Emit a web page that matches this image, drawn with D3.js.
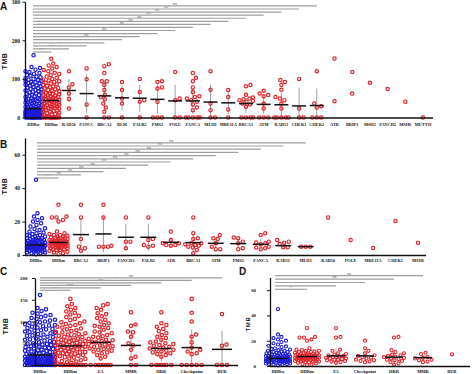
<!DOCTYPE html>
<html><head><meta charset="utf-8">
<script src="https://cdn.jsdelivr.net/npm/d3@7"></script>
<style>body{margin:0;background:#fff}svg{display:block}</style>
</head><body><svg id="c" width="474" height="374"></svg>
<script>
// ---------- DATA ----------
const ddrwTMB = [0,0,0,0,0,0,0,0,0,0,0,0,0,0,1,1,2,2,2,3,3,4,4,4,5,5,6,6,6,7,7,8,8,8,9,9,10,10,10,
 11,11,12,12,12,13,13,14,14,14,15,15,16,16,16,17,17,18,18,18,19,19,20,20,20,21,21,22,22,23,24,25,26,27,28,
 29,30,31,32,33,34,35,36,37,38,39,40,41,42,43,44,45,46,47,48,49,50,52,53,55,56,58,59,61,62,64,65,67,68,70,71,73,74,76,77,
 79,80,82,83,85,86,88,89,91,92,94,95,97,98,100,102,104,106,108,110,113,115,118,120,124,128,131,161];
const ddrmTMB = [0,0,0,0,0,0,0,0,0,0,0,0,3,5,6,8,9,11,12,14,15,17,18,20,21,22,23,24,25,26,27,28,
 29,30,31,32,33,34,35,36,37,38,39,40,41,42,43,44,45,46,47,48,49,50,51,52,53,54,55,56,57,58,60,61,62,64,65,67,68,70,71,73,
 75,76,78,80,82,84,86,88,90,92,94,96,98,100,103,106,110,113,116,120,123,127,131,135,140,152];
const ddrwB = [45,25,23,22,21,20,19,18,17,16,15.5,15,14,13.5,13,12.5,12,12,11.5,11,11,10.5,10,10,10,9.5,9.5,9,9,9,8.5,8.5,8,8,8,8,
 7.5,7.5,7,7,7,7,6.5,6.5,6.5,6,6,6,6,6,5.5,5.5,5.5,5,5,5,5,5,4.5,4.5,4.5,4,4,4,4,3.5,3.5,3.5,3,3,3,3,2.5,2.5,2,2,2,1.5,1.5,1,1,0.5];
const ddrmB = [30,23,22.5,22.5,21,20,14,13,12.5,12,12,11.5,11,11,10.5,10,10,10,9.5,9.5,9,9,9,8.5,8.5,8.5,8,8,8,8,7.5,7.5,7.5,
 7,7,7,7,6.5,6.5,6.5,6,6,6,6,5.5,5.5,5.5,5,5,5,5,4.5,4.5,4,4,4,3.5,3.5,3,3,2.5,2,1.5,1,0.5];

// Panel A
const catsA = ["DDRw","DDRm","RAD50","FANCC","BRCA2","BLM","PALB2","PMS2","POLE","FANCA","MLH1","MRE11A","BRCA1","ATM","RAD51","CHEK1","CHEK2","ATR","BRIP1","MSH2","FANCD2","MSH6","MUTYH"];
const pointsA = [ddrwTMB, ddrmTMB,
 [120,86,78,62,48,23],
 [127,99,34,0],
 [138,133,115,94,94,84,71,59,53,47,36,26,15,0,0],
 [92,71,49,36,0],
 [100,66,45,41,0],
 [94,92,78,75,41,0,0,0],
 [118,49,45,0,0],
 [115,103,94,78,66,55,53,49,45,41,34,26,19,0,0,0,0,0],
 [120,72,36,19,0,0],
 [71,53,21,0],
 [84,81,59,52,49,47,45,43,41,36,34,28,0,0,0,0],
 [69,62,58,55,36,23,0,0,0],
 [97,92,84,72,53,49,45,36,23,0,0,0,0,0],
 [100,23,0,0],
 [120,36,29,26,0,0,0],
 [153,42],[118,62],[90],[74],[41],[0]];
const centerA = [23,44,70,62,56,51,50,47,43,43,40,38,36,34,33,30,31,null,null,null,null,null,null];
const sdA = [30,35,30,50,40,32,35,38,42,33,45,30,24,24,32,48,44,null,null,null,null,null,null];
const sigA = ["****","***","*","***","*","ns","*","ns","**","ns","ns","ns","ns","ns","ns","ns"];
const ticksA = [0,100,200,300];

// Panel B
const catsB = ["DDRw","DDRm","BRCA2","BRIP1","FANCD2","PALB2","ATR","BRCA1","ATM","PMS2","FANCA","RAD51","MLH1","RAD50","POLE","MRE11A","CHEK1","MSH6"];
const pointsB = [ddrwB, ddrmB,
 [30,22.5,9.5,5,4,2.5],
 [30,22.5,5.5,5,5,5],
 [22.5,8,8,4],
 [22.5,9.5,9,6,5.5,5],
 [14,9,7,7,6,6,5.5],
 [22.5,13,10,9.5,7,7,6.5,6,5.5,5,4.5,3,1],
 [12,10,9.5,7,5,3.5,3.5],
 [10.5,10,8,7,4,3.5],
 [13,12,8,7.5,7,6.5,5,4.5,4,3.5],
 [9,8,7.4,6.6,4.6,4.6],
 [5,5,5],
 [22.5],[9],[4.2],[20.4],[7.4]];
const centerB = [6,7.5,12.2,12.6,10.6,10.6,7.6,7.4,7,6.8,6.4,5.6,5,null,null,null,null,null];
const sdB = [5,5,10,11,8,8,3,5,3,2.7,3.5,2,0.3,null,null,null,null,null];
const sigB = ["****","ns","ns","ns","ns","ns","ns","ns","ns","ns","ns","ns"];
const ticksB = [0,20,40,60];

// Panel C
const catsC = ["DDRw","DDRm","FA","MMR","HRR","Checkpoint","BER"];
const pointsC = [ddrwTMB, ddrmTMB,
 [140,137,131,127,119,117,112,108,104,100,96,92,90,88,85,81,77,75,73,69,66,65,63,60,58,57,55,53,52,50,48,47,45,43,42,40,38,37,35,33,31,29,27,23,19,15,0,0,0,0,0,0,0,0],
 [121,93,90,77,75,65,50,45,35,19,15,0,0],
 [121,96,92,88,83,78,73,69,65,62,58,54,52,50,48,46,44,42,40,38,36,35,33,31,29,27,25,23,19,0,0,0,0,0,0,0],
 [152,120,100,70,65,52,40,35,31,27,25,0,0,0,0,0],
 [117,47,44,0,0,0]];
const centerC = [23,44,52,45,38,40,36];
const sdC = [30,35,38,35,30,42,42];
const sigC = ["****","****","*","***","*","ns"];
const ticksC = [0,50,100,150,200];

// Panel D
const catsD = ["DDRw","DDRm","FA","Checkpoint","HRR","MMR","BER"];
const pointsD = [ddrwB, ddrmB,
 [30,23,22.5,13,12,10,9.5,9,8.5,8,7.5,7,7,6.5,6,6,5.5,5,5,4.5,4,3.5,3,2.5],
 [20,14,12,10,8.5,8,7,6.5,6,5,4.5,4,3.5,3],
 [23,22.5,12.5,11,10,9,8.5,8,7.5,7,6.5,6,5.5,5,4.5,4,3,2,1],
 [10.5,9.5,7,6.5,6,5,4.5,3.5,3],
 [9.2]];
const centerD = [6,7.5,8,8,7,6.6,null];
const sdD = [5,5,6,4,5,2.5,null];
const sigD = ["**","*","*","ns","ns"];
const ticksD = [0,20,40,60];

// ---------- DRAWING ----------
const svg = d3.select("#c");
const RED = "#e3242b", BLUE = "#1c1cd8", GRAY = "#9e9e9e";

function swarm(vals, cx, y, minD, maxW){
  const sorted = vals.slice().sort((a,b)=>a-b);
  const placed = [];
  const step = 0.5, n = Math.floor(maxW/step);
  for (const v of sorted){
    const py = y(v);
    let bestOff = 0, bestD = -1;
    for (let k=0;k<=2*n;k++){
      const off = (k%2===1?1:-1)*Math.ceil(k/2)*step;
      let md = Infinity;
      for (const q of placed){
        const dy = q.y-py; if (Math.abs(dy)>=minD) continue;
        const d = Math.hypot(q.x-(cx+off), dy);
        if (d<md) md=d;
      }
      if (md>=minD){ bestOff=off; bestD=md; break; }
      if (md>bestD){ bestD=md; bestOff=off; }
    }
    placed.push({x:cx+bestOff, y:py});
  }
  return placed;
}

function panel(o){
  const g = svg.append("g");
  const x = d3.scalePoint().domain(o.cats).range(o.xr);
  const y = d3.scaleLinear().domain(o.yd).range(o.yr);

  o.sig.forEach((s,i)=>{
    const yy = o.sy0 - i*o.sdy;
    const x1 = x(o.cats[i+1]);
    g.append("line").attr("x1",o.sx0).attr("x2",x1).attr("y1",yy).attr("y2",yy)
      .attr("stroke",GRAY).attr("stroke-width",1.2);
    g.append("text").attr("x",(o.sx0+x1)/2).attr("y",yy-0.7).attr("text-anchor","middle")
      .attr("font-family","Liberation Sans, Arial").attr("font-size",o.sigFs).attr("fill","#555").text(s);
  });

  o.cats.forEach((c,i)=>{
    if (o.center[i]==null) return;
    g.append("line").attr("x1",x(c)).attr("x2",x(c))
      .attr("y1",y(Math.max(0,o.center[i]-o.sd[i]))).attr("y2",y(o.center[i]+o.sd[i]))
      .attr("stroke",GRAY).attr("stroke-width",1);
  });

  o.cats.forEach((c,i)=>{
    const w = i<2 ? o.wBig : o.wSmall;
    const pts = swarm(o.points[i], x(c), y, 2*o.r+o.sw, w);
    g.append("g").selectAll("circle").data(pts).join("circle")
      .attr("cx",d=>d.x).attr("cy",d=>d.y).attr("r",o.r)
      .attr("fill","none").attr("stroke", i===0?BLUE:RED).attr("stroke-width",o.sw);
  });

  o.cats.forEach((c,i)=>{
    if (o.center[i]==null) return;
    const hw = i<2 ? o.hwBig : o.hw;
    g.append("line").attr("x1",x(c)-hw).attr("x2",x(c)+hw)
      .attr("y1",y(o.center[i])).attr("y2",y(o.center[i]))
      .attr("stroke","#111").attr("stroke-width",1.5);
  });

  const ax = g.append("g").attr("transform",`translate(${o.ax},0)`)
    .call(d3.axisLeft(y).tickValues(o.ticks).tickSize(o.tickLen).tickSizeOuter(0).tickPadding(o.tickPad).tickFormat(d3.format("d")));
  ax.select(".domain").attr("stroke","#111").attr("stroke-width",1.3);
  ax.selectAll(".tick line").attr("stroke","#111").attr("stroke-width",1);
  ax.selectAll(".tick text").attr("font-family","Liberation Serif, Times New Roman").attr("font-weight","bold")
    .attr("font-size",o.tickFs).attr("fill","#111");
  g.append("line").attr("x1",o.ax).attr("x2",o.xEnd).attr("y1",y(0)+0.5).attr("y2",y(0)+0.5)
    .attr("stroke","#111").attr("stroke-width",1.3);

  g.append("g").selectAll("text").data(o.cats).join("text")
    .attr("x",d=>x(d)).attr("y",o.labY).attr("text-anchor","middle")
    .attr("font-family","Liberation Serif, Times New Roman").attr("font-weight","bold")
    .attr("font-size",o.labFs).attr("fill","#111").text(d=>d);

  g.append("text").attr("transform",`translate(${o.tx},${o.ty}) rotate(-90)`)
    .attr("text-anchor","middle").attr("font-family","Liberation Sans, Arial").attr("font-weight","bold")
    .attr("font-size",o.tFs).attr("letter-spacing",0.6).attr("fill","#111").text("TMB");

  g.append("text").attr("x",o.lx).attr("y",o.ly).attr("font-family","Liberation Sans, Arial")
    .attr("font-weight","bold").attr("font-size",10).attr("fill","#111").text(o.letter);
}

panel({cats:catsA, points:pointsA, center:centerA, sd:sdA, sig:sigA, ticks:ticksA,
  xr:[33.5,423], yd:[0,300], yr:[117.5,1.7], ax:25, xEnd:433,
  sx0:33, sy0:52, sdy:3.07, sigFs:4,
  r:1.65, sw:1.2, wBig:8, wSmall:7, hw:7, hwBig:8,
  tickLen:2.5, tickPad:2.5, tickFs:5.5, labY:126, labFs:4.3,
  tx:7, ty:61, tFs:7, letter:"A", lx:0, ly:10});

panel({cats:catsB, points:pointsB, center:centerB, sd:sdB, sig:sigB, ticks:ticksB,
  xr:[36,418], yd:[0,70], yr:[255,138], ax:25, xEnd:426,
  sx0:37, sy0:178, sdy:3.2, sigFs:4,
  r:1.65, sw:1.2, wBig:9, wSmall:8, hw:8, hwBig:9,
  tickLen:2.5, tickPad:2.5, tickFs:5.5, labY:262, labFs:4.3,
  tx:7, ty:186, tFs:7, letter:"B", lx:0, ly:148});

panel({cats:catsC, points:pointsC, center:centerC, sd:sdC, sig:sigC, ticks:ticksC,
  xr:[40,222], yd:[0,200], yr:[365,278], ax:35, xEnd:238,
  sx0:40, sy0:290.3, sdy:2.5, sigFs:4,
  r:1.7, sw:1.25, wBig:15, wSmall:12, hw:10, hwBig:12,
  tickLen:3, tickPad:4.5, tickFs:5, labY:373, labFs:4.5,
  tx:8, ty:326, tFs:7, letter:"C", lx:0, ly:275});

panel({cats:catsD, points:pointsD, center:centerD, sd:sdD, sig:sigD, ticks:ticksD,
  xr:[278,452], yd:[0,70], yr:[366,277.5], ax:270, xEnd:470,
  sx0:275, sy0:289.3, sdy:3.4, sigFs:4,
  r:1.55, sw:1.1, wBig:12, wSmall:10, hw:9, hwBig:10,
  tickLen:3, tickPad:11, tickFs:4.8, labY:373, labFs:4.5,
  tx:250, ty:324, tFs:6, letter:"D", lx:239, ly:275});
</script>
</body></html>
